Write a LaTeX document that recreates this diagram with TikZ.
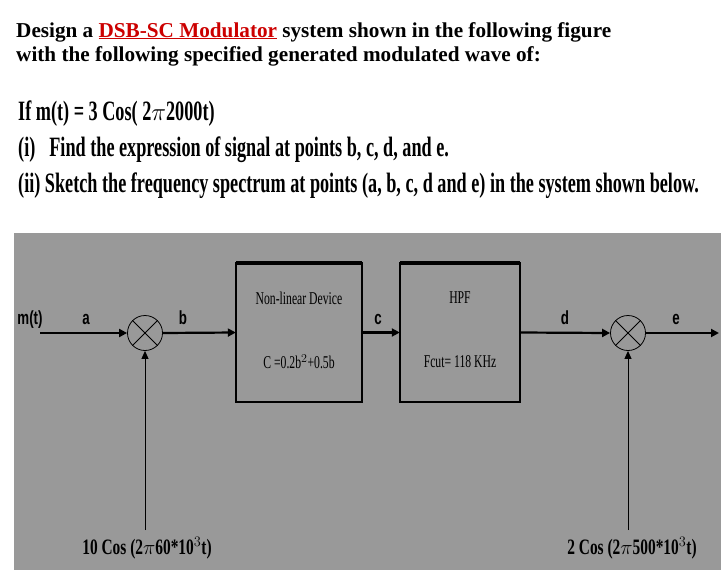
\documentclass[tikz,border=0pt]{standalone}
\usepackage{fontspec}
\setmainfont{Liberation Serif}
\newfontfamily\cond[FakeStretch=0.65]{Liberation Serif}
\newfontfamily\condb[FakeStretch=0.7]{Liberation Serif}
\newfontfamily\condsans[FakeStretch=0.7]{Liberation Sans}
\usetikzlibrary{arrows.meta}
\begin{document}
\begin{tikzpicture}[x=1pt,y=-1pt,
  lab/.style={font=\condsans\bfseries\fontsize{19}{19}\selectfont,anchor=base},
  sig/.style={line width=2.2pt,-{Triangle[length=8pt,width=8pt]}},
  blk/.style={draw,line width=2pt,fill=gray!80},
  mix/.style={draw,circle,minimum size=35pt,inner sep=0pt,line width=0.8pt},
  txt/.style={font=\cond\fontsize{18}{18}\selectfont}]
\useasboundingbox (0,0) rectangle (721,576);
\fill[white] (0,0) rectangle (721,576);
\node[anchor=base west,font=\bfseries\fontsize{21.2}{21.2}\selectfont,inner sep=0] (t1) at (16,37)
 {Design a \textcolor{red!80!black}{\underline{DSB-SC Modulator}} system shown in the following figure};
\node[anchor=base west,font=\bfseries\fontsize{21.2}{21.2}\selectfont,inner sep=0] (t2) at (16,61)
 {with the following specified generated modulated wave of:};
\node[anchor=base west,font=\cond\bfseries\fontsize{28}{28}\selectfont,inner sep=0] (q0) at (18,120) {If m(t) = 3 Cos( 2$\pi$2000t)};
\node[anchor=base west,font=\cond\bfseries\fontsize{28}{28}\selectfont,inner sep=0] (q1) at (18,156) {(i)\enspace Find the expression of signal at points b, c, d, and e.};
\node[anchor=base west,font=\cond\bfseries\fontsize{28}{28}\selectfont,inner sep=0] (q2) at (18,192) {(ii) Sketch the frequency spectrum at points (a, b, c, d and e) in the system shown below.};
\fill[gray!80] (14,233) rectangle (721,570);
\coordinate (in) at (40,333);
\node[mix] (m1) at (145,333) {};
\draw[line width=0.8pt] (m1.north west)--(m1.south east) (m1.north east)--(m1.south west);
\node[mix] (m2) at (628,333) {};
\draw[line width=0.8pt] (m2.north west)--(m2.south east) (m2.north east)--(m2.south west);
\draw[blk] (236,263) rectangle (362,402);
\draw[line width=4pt] (236,263)--(362,263);
\node[minimum width=126pt,minimum height=139pt] (b1) at (299,332.5) {};
\draw[blk] (400,263) rectangle (520,402);
\draw[line width=4pt] (400,263)--(520,263);
\node[minimum width=120pt,minimum height=139pt] (b2) at (460,332.5) {};
\node[txt] at (299,298) {Non-linear Device};
\node[txt] at (299,362) {C =0.2b$^{2}$+0.5b};
\node[txt] at (460,298) {HPF};
\node[txt] at (460,362) {Fcut= 118 KHz};
\coordinate (out) at (719,333);
\draw[sig] (in)--(m1.west);
\draw[sig] (m1.east)--(b1.west);
\draw[sig] (b1.east)--(b2.west);
\draw[sig] (b2.east)--(m2.west);
\draw[sig] (m2.east)--(out);
\coordinate (c1) at (145,530);
\coordinate (c2) at (628,530);
\draw[line width=1pt,-{Triangle[length=8pt,width=7pt]}] (c1)--(m1.south);
\draw[line width=1pt,-{Triangle[length=8pt,width=7pt]}] (c2)--(m2.south);
\node[lab] at (30,324) {m(t)};
\node[lab] at (86,324) {a};
\node[lab] at (183,324) {b};
\node[lab] at (378,324) {c};
\node[lab] at (565,324) {d};
\node[lab] at (676,324) {e};
\node[font=\condb\bfseries\fontsize{22}{22}\selectfont] at (147,548) {10 Cos (2$\pi$60*10$^{3}$t)};
\node[font=\condb\bfseries\fontsize{22}{22}\selectfont] at (632,548) {2 Cos (2$\pi$500*10$^{3}$t)};
\end{tikzpicture}
\end{document}
